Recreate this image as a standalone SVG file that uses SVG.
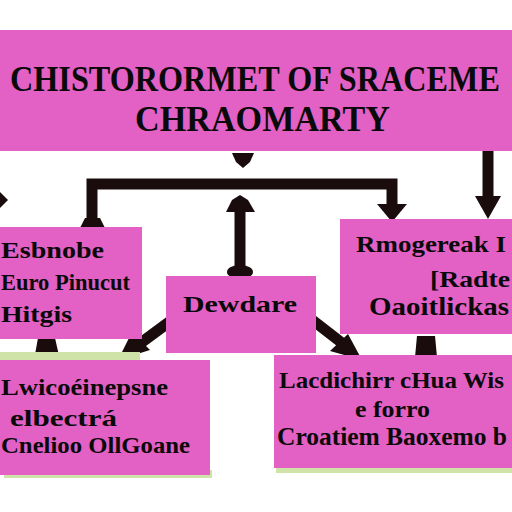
<svg xmlns="http://www.w3.org/2000/svg" width="512" height="512" viewBox="0 0 512 512">
<style>
.box{fill:#e360c4}
.sh{fill:#cfe3a8}
.t{font-family:"Liberation Serif","DejaVu Serif",serif;fill:#0a0a0a;font-weight:bold}
.ln{stroke:#1a0c0c;fill:none;stroke-width:11}
.ah{fill:#1a0c0c}
</style>
<rect width="512" height="512" fill="#ffffff"/>
<g id="connectors">
  <path class="ln" d="M92,222 V184 H392 V210"/>
  <polygon class="ah" points="377,204 407,204 392,222"/>
  <polygon class="ah" points="80,228 105,228 100,218 85,218"/>
  <polygon class="ah" points="232,153 254,153 250,162 243,168 236,162"/>
  <path class="ln" d="M240,205 V270"/>
  <polygon class="ah" points="226,212 255,212 248,200 240,195 232,200"/>
  <ellipse class="ah" cx="240" cy="272" rx="13" ry="7"/>
  <path class="ln" d="M488,150 V200" stroke-width="10"/>
  <polygon class="ah" points="475,196 501,196 488,219"/>
  <polygon class="ah" points="0,192 8,200 0,208"/>
  <path class="ln" d="M180,314 L138,345"/>
  <polygon class="ah" points="118,360 150,350 132,332"/>
  <path class="ln" d="M302,312 L342,343"/>
  <polygon class="ah" points="362,360 330,351 348,334"/>
  <polygon class="ah" points="38,338 55,338 60,360 34,360"/>
  <polygon class="ah" points="417,336 435,336 437,357 415,357"/>
</g>
<g id="title">
  <rect class="box" x="0" y="30" width="512" height="121"/>
  <text class="t" transform="translate(10,91) scale(1,1.1)" x="0" y="0" font-size="32" textLength="490" lengthAdjust="spacingAndGlyphs">CHISTORORMET OF SRACEME</text>
  <text class="t" transform="translate(135,131) scale(1,1.1)" x="0" y="0" font-size="32" textLength="255" lengthAdjust="spacingAndGlyphs">CHRAOMARTY</text>
</g>
<g id="node-left">
  <rect class="box" x="0" y="227" width="142" height="112"/>
  <text class="t" x="1" y="258" font-size="23" textLength="103" lengthAdjust="spacingAndGlyphs">Esbnobe</text>
  <text class="t" x="1" y="290" font-size="23" textLength="129" lengthAdjust="spacingAndGlyphs">Euro Pinucut</text>
  <text class="t" x="1" y="322" font-size="23" textLength="71" lengthAdjust="spacingAndGlyphs">Hitgis</text>
</g>
<g id="node-center">
  <rect class="box" x="166" y="276" width="150" height="77"/>
  <text class="t" x="183" y="312" font-size="23" textLength="114" lengthAdjust="spacingAndGlyphs">Dewdare</text>
</g>
<g id="node-right">
  <rect class="box" x="340" y="219" width="172" height="115"/>
  <text class="t" x="356" y="252" font-size="23" textLength="150" lengthAdjust="spacingAndGlyphs">Rmogereak I</text>
  <text class="t" x="430" y="287" font-size="23" textLength="80" lengthAdjust="spacingAndGlyphs">[Radte</text>
  <text class="t" x="369" y="315" font-size="25" textLength="140" lengthAdjust="spacingAndGlyphs">Oaoitlickas</text>
</g>
<g id="node-bottom-left">
  <rect class="sh" x="0" y="352" width="140" height="8"/>
  <rect class="sh" x="4" y="470" width="208" height="8"/>
  <rect class="box" x="0" y="360" width="210" height="115"/>
  <text class="t" x="1" y="395" font-size="23" textLength="167" lengthAdjust="spacingAndGlyphs">Lwicoéinepsne</text>
  <text class="t" x="10" y="426" font-size="23" textLength="107" lengthAdjust="spacingAndGlyphs">elbectrá</text>
  <text class="t" x="1" y="453" font-size="23" textLength="189" lengthAdjust="spacingAndGlyphs">Cnelioo OllGoane</text>
</g>
<g id="node-bottom-right">
  <rect class="sh" x="276" y="465" width="236" height="8"/>
  <rect class="box" x="274" y="355" width="238" height="113"/>
  <text class="t" x="279" y="388" font-size="23" textLength="225" lengthAdjust="spacingAndGlyphs">Lacdichirr cHua Wis</text>
  <text class="t" x="355" y="417" font-size="23" textLength="75" lengthAdjust="spacingAndGlyphs">e forro</text>
  <text class="t" x="277" y="445" font-size="25" textLength="230" lengthAdjust="spacingAndGlyphs">Croatiem Baoxemo b</text>
</g>
</svg>
